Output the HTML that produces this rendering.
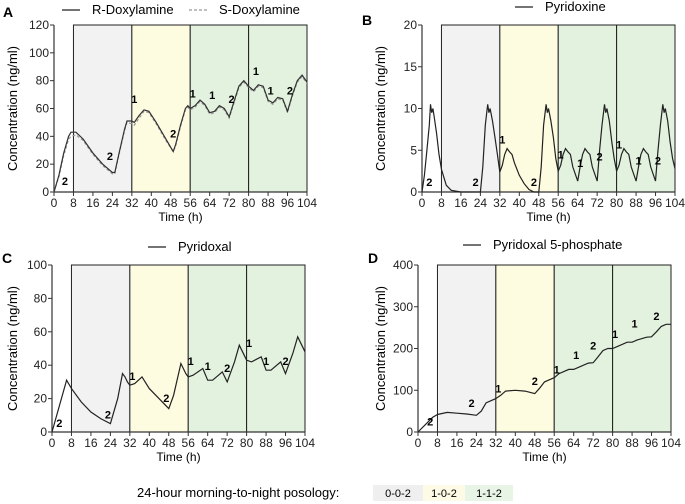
<!DOCTYPE html>
<html><head><meta charset="utf-8"><style>
html,body{margin:0;padding:0;background:#fff;width:685px;height:504px;overflow:hidden}
svg{display:block;font-family:"Liberation Sans",Arial,sans-serif}
</style></head><body>
<svg id="c" width="685" height="504"></svg>
<script>
const ticksX=[0,8,16,24,32,40,48,56,64,72,80,88,96,104];
const doseRegions=[[8,32,'#f2f2f2'],[32,56,'#fdfbe0'],[56,80,'#e3f2df'],[80,104,'#e3f2df']];
const rDox=[[0,0],[2,12],[4,28],[6,40],[7,43],[9,43],[12,38],[16,28],[20,20],[24,14],[25,14],[27,30],[29,45],[30,51],[32,51],[33,50],[35,55],[37,59],[39,58],[42,50],[46,38],[49,29],[50,34],[52,48],[54,60],[55,62],[56,60],[58,62],[60,66],[62,63],[64,57],[66,58],[68,62],[70,60],[72,54],[74,65],[76,76],[78,80],[80,76],[82,73],[84,77],[86,76],[88,66],[90,64],[92,68],[94,67],[96,58],[98,70],[100,80],[102,84],[104,79]];
const sDox=[[0,0],[2,11],[4,26],[6,38],[7,40],[9,41],[12,37],[16,27],[20,19],[24,13],[25,13],[27,29],[29,44],[30,50],[32,49],[33,48],[35,53],[37,58],[39,57],[42,49],[46,37],[49,29],[50,33],[52,47],[54,59],[55,61],[56,59],[58,61],[60,65],[62,62],[64,56],[66,57],[68,61],[70,59],[72,53],[74,64],[76,75],[78,79],[80,75],[82,72],[84,76],[86,75],[88,65],[90,63],[92,67],[94,66],[96,57],[98,69],[100,79],[102,83],[104,78]];
const pyridoxine=[[0,0],[1,2],[2,5],[3,8],[3.5,10.5],[4,9.5],[4.5,10],[5,9],[6,7],[7,4.5],[8,2.7],[10,0.8],[12,0.2],[16,0],[24,0],[25,3],[26,8],[27,10.5],[27.5,9.5],[28,10],[29,8.5],[30,6.5],[31,4.5],[32,2.4],[33,3.2],[34,4.5],[35,5.2],[36,4.8],[37,4.5],[38,3.5],[40,2],[42,1],[44,0.3],[46,0],[48,0],[49,3],[50,8],[51,10.5],[51.5,9.5],[52,10],[53,8.5],[54,6.5],[55,4],[56,2.5],[57,3.2],[58,4.5],[59,5.2],[60,4.8],[61,4.5],[62,3],[64,1.3],[65,3],[66,4.5],[67,5.2],[68,4.8],[69,4.5],[70,3],[72,1.3],[73,5],[74,8],[75,10.5],[75.5,9.5],[76,10],[77,8.5],[78,6],[79,4],[80,2.5],[81,3.2],[82,4.5],[83,5.2],[84,4.8],[85,4.5],[86,3],[88,1.3],[89,3],[90,4.5],[91,5.2],[92,4.8],[93,4.5],[94,3],[96,1.3],[97,5],[98,8],[99,10.5],[99.5,9.5],[100,10],[101,8.5],[102,6],[103,4],[104,2.8]];
const pyridoxal=[[0,0],[6,31],[8,26],[12,18],[16,12],[20,8],[24,5],[27,20],[29,35],[30,33],[31,30],[32,28],[34,29],[37,33],[40,26],[44,20],[48,14],[50,22],[53,41],[55,35],[56,33],[58,34],[62,38],[64,31],[66,31],[70,36],[72,30],[75,42],[77,52],[79,46],[80,43],[82,42],[86,45],[88,37],[90,37],[94,42],[96,35],[99,47],[101,57],[104,48]];
const plp=[[0,0],[6,35],[8,42],[12,47],[16,45],[20,43],[24,40],[26,50],[28,70],[32,80],[34,88],[36,98],[40,100],[44,98],[48,92],[50,105],[52,120],[56,130],[58,140],[62,150],[64,150],[66,155],[70,165],[72,166],[74,180],[76,195],[78,200],[80,200],[82,205],[86,215],[88,215],[90,220],[94,227],[96,228],[98,240],[100,253],[102,258],[104,258]];
const labA=[[4.5,5,'2'],[23,23,'2'],[33,64,'1'],[49,39,'2'],[57,68,'1'],[65,67,'1'],[73,64,'2'],[83,84,'1'],[89,70,'1'],[97,70,'2']];
const labB=[[3,0.7,'2'],[22,0.7,'2'],[46,0.7,'2'],[33,5.8,'1'],[57,4,'1'],[65,3,'1'],[73,3.8,'2'],[81,5.2,'1'],[89,3.3,'1'],[97,3.3,'2']];
const labC=[[3,3,'2'],[23,8,'2'],[33,31,'1'],[47,18,'2'],[57,40,'1'],[64,37,'1'],[72,36,'2'],[81,51,'1'],[88,40,'1'],[96,40,'2']];
const labD=[[5,15,'2'],[22,60,'2'],[33,95,'1'],[48,112,'2'],[57,140,'1'],[65,175,'1'],[72,198,'2'],[81,225,'1'],[89,250,'1'],[98,268,'2']];
const ticksYA=[0,20,40,60,80,100,120],ticksYB=[0,5,10,15,20],ticksYC=[0,20,40,60,80,100],ticksYD=[0,100,200,300,400];

const svg=document.getElementById('c');const NS='http://www.w3.org/2000/svg';
function el(t,a,p){const e=document.createElementNS(NS,t);for(const k in a)e.setAttribute(k,a[k]);(p||svg).appendChild(e);return e;}
function txt(x,y,s,a,p){const e=el('text',Object.assign({x:x,y:y},a),p);e.textContent=s;return e;}
function panel(o){
 const g=el('g',{});
 
 
 const X=v=>o.x0+(v/104)*(o.x1-o.x0), Y=v=>o.y0-(v/o.ymax)*(o.y0-o.y1);
 doseRegions.forEach(r=>{const b=el('rect',{x:X(r[0]),y:o.y1,width:X(r[1])-X(r[0]),height:o.y0-o.y1,fill:r[2],stroke:'#222','stroke-width':1},g);
  
  });
 const ax=el('path',{d:`M${o.x0},${o.y1}V${o.y0}H${o.x1}`,stroke:'#333',fill:'none','stroke-width':1.2},g);
 
 
 ticksX.forEach(t=>{el('line',{x1:X(t),x2:X(t),y1:o.y0,y2:o.y0+4,stroke:'#333'},g);
  const l=txt(X(t),o.y0+15,String(t),{'font-size':12,'text-anchor':'middle',fill:'#222'},g);
  
  });
 o.ty.forEach(t=>{el('line',{x1:o.x0-4,x2:o.x0,y1:Y(t),y2:Y(t),stroke:'#333'},g);
  const l=txt(o.x0-5,Y(t)+4,String(t),{'font-size':12,'text-anchor':'end',fill:'#222'},g);
  
  });
 const xt=txt((o.x0+o.x1)/2,o.y0+29,'Time (h)',{'font-size':12,'text-anchor':'middle'},g);
 
 
 const yt=txt(0,0,'Concentration (ng/ml)',{'font-size':13,'text-anchor':'middle',transform:`translate(${o.yx},${(o.y0+o.y1)/2}) rotate(-90)`},g);
 
 
 o.series.forEach(s=>{const d=s.data.map((p,i)=>(i?'L':'M')+X(p[0]).toFixed(1)+','+Y(p[1]).toFixed(1)).join('');
  const pth=el('path',{d:d,fill:'none',stroke:s.color,'stroke-width':1.2,'stroke-dasharray':s.dash||'none'},g);
  
  });
 o.labels.forEach(l=>{const e=txt(X(l[0]),Y(l[1]),l[2],{'font-size':11,'font-weight':'bold','text-anchor':'middle'},g);
  
  });
 const pl=txt(o.lx,o.ly,o.letter,{'font-size':14,'font-weight':'bold'},g);
 
 
 o.legend.forEach(l=>{const lg=el('g',{},g);
  
  
  el('line',{x1:l.x,x2:l.x+18,y1:l.y-4,y2:l.y-4,stroke:l.color,'stroke-width':1.2,'stroke-dasharray':l.dash||'none'},lg);
  txt(l.x+30,l.y,l.t,{'font-size':13},lg);});
}
panel({name:'panel-a',x0:54,x1:307,y0:192,y1:25,ymax:120,ty:ticksYA,yx:17,letter:'A',lx:3,ly:17,labels:labA,
 series:[{data:sDox,color:'#999',dash:'3,2',name:'s-doxylamine-line'},{data:rDox,color:'#333',name:'r-doxylamine-line'}],
 legend:[{x:62,y:14,t:'R-Doxylamine',color:'#222'},{x:189,y:14,t:'S-Doxylamine',color:'#999',dash:'3,2'}]});
panel({name:'panel-b',x0:422,x1:675,y0:192,y1:25,ymax:20,ty:ticksYB,yx:385,letter:'B',lx:362,ly:25,labels:labB,
 series:[{data:pyridoxine,color:'#222',name:'pyridoxine-line'}],legend:[{x:515,y:11,t:'Pyridoxine',color:'#222'}]});
panel({name:'panel-c',x0:52,x1:305,y0:432,y1:265,ymax:100,ty:ticksYC,yx:17,letter:'C',lx:2,ly:263,labels:labC,
 series:[{data:pyridoxal,color:'#222',name:'pyridoxal-line'}],legend:[{x:148,y:251,t:'Pyridoxal',color:'#222'}]});
panel({name:'panel-d',x0:418,x1:671,y0:432,y1:265,ymax:400,ty:ticksYD,yx:385,letter:'D',lx:368,ly:263,labels:labD,
 series:[{data:plp,color:'#222',name:'plp-line'}],legend:[{x:463,y:249,t:'Pyridoxal 5-phosphate',color:'#222'}]});
const leg=el('g',{});


txt(137,497,'24-hour morning-to-night posology:',{'font-size':13},leg);
[[373,50,'#efefef','0-0-2'],[423,42,'#fdfae6','1-0-2'],[465,48,'#e8f4e5','1-1-2']].forEach(s=>{
 el('rect',{x:s[0],y:485,width:s[1],height:16,fill:s[2]},leg);
 txt(s[0]+s[1]/2,497,s[3],{'font-size':11,'text-anchor':'middle'},leg);});
</script>
</body></html>
